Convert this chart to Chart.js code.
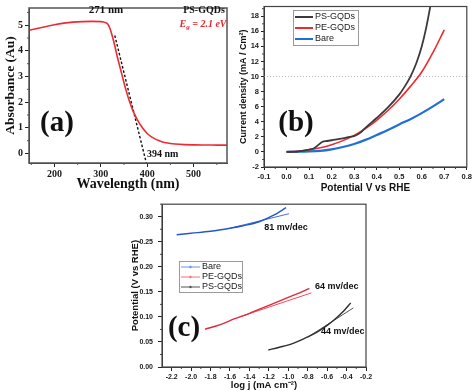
<!DOCTYPE html>
<html>
<head>
<meta charset="utf-8">
<script src="https://cdn.jsdelivr.net/npm/chart.js@4.4.1/dist/chart.umd.min.js"></script>
<style>
body { margin: 0; background: #fff; width: 474px; height: 391px; position: relative; overflow: hidden; }
canvas { position: absolute; }
#ca { left: 0; top: 0; }
#cb { left: 237px; top: 0; }
#cc { left: 126px; top: 195px; }
</style>
</head>
<body>
<canvas id="ca" width="237" height="195"></canvas>
<canvas id="cb" width="237" height="195"></canvas>
<canvas id="cc" width="254" height="196"></canvas>
<script>
// ---- panel (a): UV-vis absorbance
const waveA = [145, 160, 180, 200, 220, 240, 260, 280, 300, 310, 315, 320, 325, 330, 335, 340, 345, 350, 355, 360, 365, 370, 380, 390, 400, 410, 420, 430, 440, 450, 460, 480, 500, 520, 540, 560, 572];
const absA = [4.80, 4.86, 4.94, 5.02, 5.08, 5.12, 5.14, 5.15, 5.14, 5.10, 5.04, 4.85, 4.55, 4.20, 3.80, 3.45, 3.10, 2.75, 2.42, 2.12, 1.86, 1.63, 1.27, 0.99, 0.78, 0.64, 0.54, 0.47, 0.42, 0.39, 0.37, 0.345, 0.335, 0.33, 0.33, 0.325, 0.325];
const tangentWave = [330, 398];
const tangentAbs = [4.6, -0.37];
const xTicksA = [200, 300, 400, 500];
const yTicksA = [0, 1, 2, 3, 4, 5];

// ---- panel (b): LSV curves
const psV = [0, 0.05, 0.1, 0.12, 0.14, 0.16, 0.18, 0.2, 0.25, 0.28, 0.3, 0.33, 0.35, 0.4, 0.45, 0.5, 0.525, 0.55, 0.575, 0.6, 0.62, 0.64];
const psJ = [0, 0.08, 0.3, 0.45, 0.9, 1.35, 1.45, 1.55, 1.8, 2.0, 2.1, 2.6, 3.2, 4.5, 5.9, 7.6, 8.7, 10.0, 11.7, 14.0, 16.5, 19.6];
const peV = [0, 0.05, 0.1, 0.15, 0.2, 0.25, 0.3, 0.35, 0.4, 0.45, 0.5, 0.55, 0.6, 0.65, 0.7];
const peJ = [0, 0.1, 0.3, 0.55, 0.95, 1.5, 2.2, 3.1, 4.2, 5.5, 7.0, 8.7, 10.6, 13.2, 16.2];
const bareV = [0, 0.05, 0.1, 0.15, 0.2, 0.25, 0.3, 0.35, 0.4, 0.45, 0.5, 0.55, 0.6, 0.65, 0.7];
const bareJ = [0, 0.02, 0.06, 0.15, 0.35, 0.65, 1.05, 1.6, 2.25, 2.9, 3.65, 4.35, 5.15, 6.05, 7.0];
const refJ = 10;
const xTicksB = [-0.1, 0, 0.1, 0.2, 0.3, 0.4, 0.5, 0.6, 0.7, 0.8];
const xLabelsB = ['-0.1', '0.0', '0.1', '0.2', '0.3', '0.4', '0.5', '0.6', '0.7', '0.8'];
const yTicksB = [-2, 0, 2, 4, 6, 8, 10, 12, 14, 16, 18];

// ---- panel (c): Tafel plots
const bareLogJ = [-2.149, -2.0, -1.8, -1.6, -1.463, -1.3, -1.15, -1.023];
const bareE = [0.264, 0.267, 0.271, 0.277, 0.282, 0.290, 0.303, 0.318];
const bareFitLogJ = [-1.6, -0.992];
const bareFitE = [0.277, 0.306];
const peLogJ = [-1.857, -1.7, -1.55, -1.4, -1.29, -1.1, -0.95, -0.85, -0.783];
const peE = [0.0754, 0.0845, 0.0966, 0.107, 0.116, 0.131, 0.143, 0.151, 0.157];
const peFitLogJ = [-1.5, -0.762];
const peFitE = [0.100, 0.148];
const psLogJ = [-1.205, -1.1, -0.95, -0.8, -0.7, -0.6, -0.5, -0.42, -0.357];
const psE = [0.034, 0.039, 0.047, 0.060, 0.070, 0.083, 0.099, 0.114, 0.128];
const psFitLogJ = [-0.8, -0.33];
const psFitE = [0.0595, 0.118];
const xTicksC = [-2.2, -2.0, -1.8, -1.6, -1.4, -1.2, -1.0, -0.8, -0.6, -0.4, -0.2];
const xLabelsC = ['-2.2', '-2.0', '-1.8', '-1.6', '-1.4', '-1.2', '-1.0', '-0.8', '-0.6', '-0.4', '-0.2'];
const yTicksC = [0, 0.05, 0.10, 0.15, 0.20, 0.25, 0.30];
const yLabelsC = ['0.00', '0.05', '0.10', '0.15', '0.20', '0.25', '0.30'];

function pts(xs, ys) {
    return xs.map((x, i) => ({x: x, y: ys[i]}));
}

const SERIF = '"Liberation Serif", "DejaVu Serif", serif';
const SANS = '"Liberation Sans", Arial, sans-serif';

// frame round the plot area plus small minor ticks between the majors
const framePlugin = {
    id: 'frame',
    afterDraw(chart, args, opts) {
        const {ctx, chartArea: a, scales} = chart;
        ctx.save();
        ctx.strokeStyle = opts.color || '#333';
        ctx.lineWidth = opts.width || 1;
        ctx.strokeRect(a.left, a.top, a.right - a.left, a.bottom - a.top);
        ctx.lineWidth = 1;
        ['x', 'y'].forEach(id => {
            const s = scales[id];
            const vals = s.ticks.map(t => t.value);
            const minors = [];
            for (let i = 0; i < vals.length - 1; i++) minors.push((vals[i] + vals[i + 1]) / 2);
            if (vals.length > 1) {
                const step = vals[1] - vals[0];
                minors.push(vals[0] - step / 2, vals[vals.length - 1] + step / 2);
            }
            minors.forEach(v => {
                if (v < s.min || v > s.max) return;
                const p = s.getPixelForValue(v);
                ctx.beginPath();
                if (id === 'x') { ctx.moveTo(p, a.bottom); ctx.lineTo(p, a.bottom + 2); }
                else { ctx.moveTo(a.left, p); ctx.lineTo(a.left - 2, p); }
                ctx.stroke();
            });
        });
        ctx.restore();
    }
};

const notesPlugin = {
    id: 'notes',
    afterDraw(chart, args, opts) {
        const ctx = chart.ctx;
        (opts.items || []).forEach(n => {
            ctx.save();
            ctx.fillStyle = n.color || '#111';
            ctx.textBaseline = 'middle';
            if (n.parts) {
                let w = 0;
                n.parts.forEach(p => { ctx.font = p.sub ? n.subFont : n.font; w += ctx.measureText(p.t).width; });
                let x = n.align === 'left' ? n.x : n.x - w / 2;
                ctx.textAlign = 'left';
                n.parts.forEach(p => {
                    ctx.font = p.sub ? n.subFont : n.font;
                    ctx.fillText(p.t, x, n.y + (p.sub ? 3 : 0));
                    x += ctx.measureText(p.t).width;
                });
            } else {
                ctx.font = n.font;
                ctx.textAlign = n.align || 'center';
                ctx.fillText(n.text, n.x, n.y);
            }
            ctx.restore();
        });
    }
};

const legendBoxPlugin = {
    id: 'legendBox',
    afterDraw(chart, args, o) {
        if (!o.rows) return;
        const ctx = chart.ctx;
        ctx.save();
        ctx.strokeStyle = '#9a9a9a';
        ctx.lineWidth = 1;
        ctx.strokeRect(o.box[0] + 0.5, o.box[1] + 0.5, o.box[2], o.box[3]);
        ctx.font = o.font;
        ctx.textBaseline = 'middle';
        ctx.textAlign = 'left';
        o.rows.forEach(r => {
            const ds = chart.data.datasets[r.index];
            ctx.strokeStyle = r.color || ds.borderColor;
            ctx.lineWidth = o.lineWidth;
            ctx.beginPath();
            ctx.moveTo(o.lineX[0], r.y);
            ctx.lineTo(o.lineX[1], r.y);
            ctx.stroke();
            if (o.marker) {
                ctx.fillStyle = r.color || ds.borderColor;
                ctx.beginPath();
                ctx.arc((o.lineX[0] + o.lineX[1]) / 2, r.y, 1.2, 0, Math.PI * 2);
                ctx.fill();
            }
            ctx.fillStyle = '#222';
            ctx.fillText(ds.label, o.textX, r.y);
        });
        ctx.restore();
    }
};

Chart.register(framePlugin, notesPlugin, legendBoxPlugin);

function axis(opts) {
    const o = {
        type: 'linear',
        min: opts.min,
        max: opts.max,
        afterBuildTicks: s => { s.ticks = opts.ticks.map(v => ({value: v})); },
        afterFit: s => { if (opts.horizontal) s.height = opts.size; else s.width = opts.size; },
        grid: {drawOnChartArea: false, drawTicks: true, tickLength: opts.tickLength, tickColor: '#222'},
        border: {display: true, color: '#333', width: 1},
        ticks: {
            autoSkip: false,
            maxRotation: 0,
            padding: opts.tickPad,
            color: '#1a1a1a',
            font: opts.tickFont,
            callback: (v, i) => opts.labels ? opts.labels[i] : String(opts.ticks[i])
        },
        title: {display: true, text: opts.title, color: '#111', font: opts.titleFont, padding: opts.titlePad}
    };
    return o;
}

const baseOptions = {
    responsive: false,
    animation: false,
    events: [],
    plugins: {legend: {display: false}, tooltip: {enabled: false}}
};

// ---------- (a)
new Chart(document.getElementById('ca'), {
    type: 'line',
    data: {
        datasets: [
            {data: pts(waveA, absA), borderColor: '#ee2b33', borderWidth: 1.6, pointRadius: 0, cubicInterpolationMode: 'monotone'},
            {data: pts(tangentWave, tangentAbs), borderColor: '#111', borderWidth: 1.4, borderDash: [2.5, 2], pointRadius: 0}
        ]
    },
    options: Object.assign({}, baseOptions, {
        layout: {padding: {left: 0, right: 10, top: 1, bottom: 0}},
        scales: {
            x: axis({min: 145, max: 572, ticks: xTicksA, horizontal: true, size: 32, tickLength: 4, tickPad: 1,
                tickFont: {family: SERIF, size: 10, weight: 'bold'}, title: 'Wavelength (nm)',
                titleFont: {family: SERIF, size: 14, weight: 'bold'}, titlePad: 2}),
            y: axis({min: -0.37, max: 5.67, ticks: yTicksA, size: 29, tickLength: 4, tickPad: 2,
                tickFont: {family: SERIF, size: 10, weight: 'bold'}, title: 'Absorbance (Au)',
                titleFont: {family: SERIF, size: 13.5, weight: 'bold'}, titlePad: 2})
        },
        plugins: Object.assign({}, baseOptions.plugins, {
            frame: {color: '#555', width: 1.5},
            notes: {items: [
                {text: '271 nm', x: 106, y: 10, font: 'bold 11px ' + SERIF},
                {text: 'PS-GQDs', x: 204, y: 10, font: 'bold 10px ' + SERIF},
                {parts: [{t: 'E'}, {t: 'g', sub: true}, {t: ' = 2.1 eV'}], x: 203, y: 24, color: '#e5252d',
                    font: 'italic bold 10px ' + SERIF, subFont: 'italic bold 7px ' + SERIF},
                {text: '394 nm', x: 147, y: 154, align: 'left', font: 'bold 10px ' + SERIF},
                {text: '(a)', x: 57, y: 124, font: 'bold 29px ' + SERIF}
            ]}
        })
    })
});

// ---------- (b)
new Chart(document.getElementById('cb'), {
    type: 'line',
    data: {
        datasets: [
            {label: 'PS-GQDs', data: pts(psV, psJ), borderColor: '#3a3a3a', borderWidth: 1.8, pointRadius: 0, cubicInterpolationMode: 'monotone'},
            {label: 'PE-GQDs', data: pts(peV, peJ), borderColor: '#ee2a2e', borderWidth: 1.6, pointRadius: 0, cubicInterpolationMode: 'monotone'},
            {label: 'Bare', data: pts(bareV, bareJ), borderColor: '#1f6fd6', borderWidth: 2.2, pointRadius: 0, cubicInterpolationMode: 'monotone'},
            {label: 'ref', data: [{x: -0.1, y: refJ}, {x: 0.8, y: refJ}], borderColor: '#b8b8b8', borderWidth: 1, borderDash: [1, 2], pointRadius: 0}
        ]
    },
    options: Object.assign({}, baseOptions, {
        layout: {padding: {left: 0, right: 5, top: 1, bottom: 0}},
        scales: {
            x: axis({min: -0.1, max: 0.8, ticks: xTicksB, labels: xLabelsB, horizontal: true, size: 28, tickLength: 3, tickPad: 2,
                tickFont: {family: SANS, size: 7.5, weight: 'bold'}, title: 'Potential V vs RHE',
                titleFont: {family: SANS, size: 10, weight: 'bold'}, titlePad: 1}),
            y: axis({min: -2, max: 19.3, ticks: yTicksB, size: 27, tickLength: 3, tickPad: 2,
                tickFont: {family: SANS, size: 7.5, weight: 'bold'}, title: 'Current density (mA / Cm\u00b2)',
                titleFont: {family: SANS, size: 9, weight: 'bold'}, titlePad: 1.5})
        },
        plugins: Object.assign({}, baseOptions.plugins, {
            frame: {color: '#444', width: 1.2},
            legendBox: {box: [56, 10, 65, 35], lineX: [58, 76], textX: 78, lineWidth: 2, font: '9px ' + SANS,
                rows: [{index: 0, y: 17}, {index: 1, y: 28}, {index: 2, y: 39}]},
            notes: {items: [
                {text: '(b)', x: 59, y: 124, font: 'bold 29px ' + SERIF}
            ]}
        })
    })
});

// ---------- (c)
new Chart(document.getElementById('cc'), {
    type: 'line',
    data: {
        datasets: [
            {label: 'Bare', data: pts(bareLogJ, bareE), borderColor: '#2456cc', borderWidth: 1.4, pointRadius: 0, cubicInterpolationMode: 'monotone'},
            {label: 'PE-GQDs', data: pts(peLogJ, peE), borderColor: '#e3283a', borderWidth: 1.4, pointRadius: 0, cubicInterpolationMode: 'monotone'},
            {label: 'PS-GQDs', data: pts(psLogJ, psE), borderColor: '#2e2e2e', borderWidth: 1.4, pointRadius: 0, cubicInterpolationMode: 'monotone'},
            {data: pts(bareFitLogJ, bareFitE), borderColor: '#4a6fd0', borderWidth: 1, pointRadius: 0},
            {data: pts(peFitLogJ, peFitE), borderColor: '#e8505c', borderWidth: 1, pointRadius: 0},
            {data: pts(psFitLogJ, psFitE), borderColor: '#555', borderWidth: 1, pointRadius: 0}
        ]
    },
    options: Object.assign({}, baseOptions, {
        layout: {padding: {left: 0, right: 14, top: 8, bottom: 0}},
        scales: {
            x: axis({min: -2.3, max: -0.2, ticks: xTicksC, labels: xLabelsC, horizontal: true, size: 24, tickLength: 4, tickPad: 2,
                tickFont: {family: SANS, size: 7, weight: 'bold'}, title: 'log j (mA cm\u207b\u00b2)',
                titleFont: {family: SANS, size: 9.5, weight: 'bold'}, titlePad: 0}),
            y: axis({min: 0, max: 0.325, ticks: yTicksC, labels: yLabelsC, size: 36, tickLength: 4, tickPad: 5,
                tickFont: {family: SANS, size: 7, weight: 'bold'}, title: 'Potential (V vs RHE)',
                titleFont: {family: SANS, size: 9.5, weight: 'bold'}, titlePad: 4})
        },
        plugins: Object.assign({}, baseOptions.plugins, {
            frame: {color: '#444', width: 1.2},
            legendBox: {box: [53, 66, 63, 31], lineX: [55, 74], textX: 76, lineWidth: 1, marker: true, font: '9px ' + SANS,
                rows: [{index: 0, y: 72, color: '#6b96e0'}, {index: 1, y: 82, color: '#ec7482'}, {index: 2, y: 92, color: '#555'}]},
            notes: {items: [
                {text: '81 mv/dec', x: 160, y: 33, font: 'bold 9px ' + SANS},
                {text: '64 mv/dec', x: 189, y: 92, align: 'left', font: 'bold 9px ' + SANS},
                {text: '44 mv/dec', x: 195, y: 137, align: 'left', font: 'bold 9px ' + SANS},
                {text: '(c)', x: 58, y: 134, font: 'bold 29px ' + SERIF}
            ]}
        })
    })
});
</script>
</body>
</html>
